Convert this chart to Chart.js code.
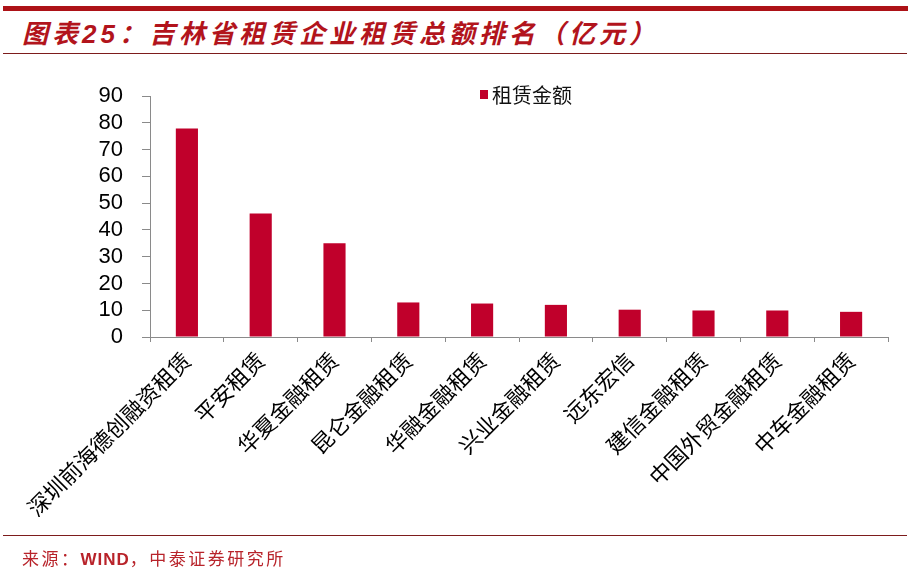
<!DOCTYPE html>
<html>
<head>
<meta charset="utf-8">
<script src="https://cdn.jsdelivr.net/npm/chart.js@4"></script>
<style>
  html, body { margin: 0; padding: 0; background: #fff; }
  body { width: 920px; height: 576px; position: relative; overflow: hidden; font-family: "Noto Sans CJK SC", sans-serif; }
  #chart { position: absolute; left: 0; top: 0; }
  .bar-top { position: absolute; left: 3px; top: 6px; width: 905px; height: 5px; background: #ad1217; }
  .rule { position: absolute; left: 3px; width: 904px; height: 1px; background: #7d1c1c; }
  .title { position: absolute; left: 22px; top: 18px; font: italic bold 26px/32px "Liberation Sans", "Noto Sans CJK SC", sans-serif; letter-spacing: 4px; color: #b2141c; white-space: nowrap; }
  .source { position: absolute; left: 22px; top: 547px; font: 17px/22px "Noto Sans CJK SC", sans-serif; letter-spacing: 2.5px; color: #b8232a; white-space: nowrap; }
  .source b { font-family: "Liberation Sans Narrow", "Liberation Sans", sans-serif; letter-spacing: 1px; }
</style>
</head>
<body>
<div class="bar-top"></div>
<div class="title">图表25：吉林省租赁企业租赁总额排名（亿元）</div>
<div class="rule" style="top:53px"></div>
<canvas id="chart" width="920" height="576"></canvas>
<div class="rule" style="top:535px"></div>
<div class="source">来源：<b>WIND</b>，中泰证券研究所</div>
<script>
// data (亿元)
const companies = ["深圳前海德创融资租赁", "平安租赁", "华夏金融租赁", "昆仑金融租赁", "华融金融租赁",
    "兴业金融租赁", "远东宏信", "建信金融租赁", "中国外贸金融租赁", "中车金融租赁"];
const leaseAmount = [77.9, 46.1, 35.0, 12.9, 12.5, 12.0, 10.2, 9.9, 9.9, 9.4];
const seriesName = "租赁金额";
const barColor = "#c0002b";
const axisColor = "#8a8a8a";

// small legend drawn inside the plot, like the original
const legendInPlot = {
    id: "legendInPlot",
    afterDraw: chart => {
        const ctx = chart.ctx;
        const ds = chart.data.datasets[0];
        ctx.save();
        ctx.fillStyle = ds.backgroundColor;
        ctx.fillRect(480, 90, 8, 9);
        ctx.fillStyle = "#111";
        ctx.font = "20px 'Noto Sans CJK SC'";
        ctx.textBaseline = "middle";
        ctx.fillText(ds.label, 492, 95);
        ctx.restore();
    }
};

new Chart("chart", {
    type: "bar",
    data: {
        labels: companies,
        datasets: [{
            label: seriesName,
            data: leaseAmount,
            backgroundColor: barColor,
            categoryPercentage: 1,
            barPercentage: 0.3
        }]
    },
    options: {
        responsive: false,
        animation: false,
        layout: {padding: {top: 96, right: 32, bottom: 0, left: 0}},
        plugins: {legend: {display: false}, tooltip: {enabled: false}},
        scales: {
            x: {
                grid: {drawOnChartArea: false, drawTicks: true, tickLength: 5, color: axisColor, offset: true},
                border: {color: axisColor},
                ticks: {
                    color: "#000",
                    font: {family: "'Noto Sans CJK SC'", size: 22},
                    minRotation: 45,
                    maxRotation: 45,
                    autoSkip: false,
                    padding: 5
                },
                afterFit: s => { s.height = 239; }
            },
            y: {
                min: 0,
                max: 90,
                grid: {drawOnChartArea: false, drawTicks: true, tickLength: 8, color: axisColor},
                border: {color: axisColor},
                ticks: {
                    stepSize: 10,
                    autoSkip: false,
                    color: "#000",
                    font: {family: "'Liberation Sans', Arial", size: 22},
                    padding: 19
                },
                afterFit: s => { s.width = 150; }
            }
        }
    },
    plugins: [legendInPlot]
});
</script>
</body>
</html>
